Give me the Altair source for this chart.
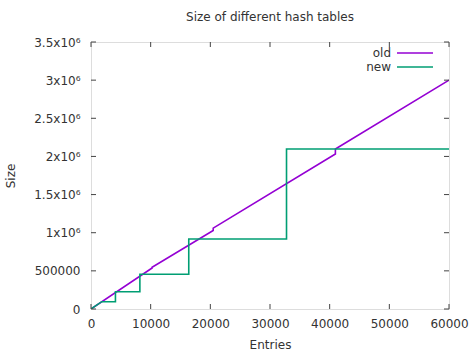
import json
import altair as alt
import pandas as pd

# ---- data ----
old_entries = [0, 10240, 10240, 20480, 20480, 40960, 40960, 60000]
old_size = [0, 537000, 548000, 1030000, 1060000, 2032000, 2097000, 3000000]

new_entries = [0, 1800, 4096, 4096, 8192, 8192, 16384, 16384, 32768, 32768, 60000]
new_size = [0, 96000, 96000, 227000, 227000, 455000, 455000, 918000, 918000, 2097000, 2097000]

series_names = ["old", "new"]
series_colors = ["#9400D3", "#009E73"]

x_ticks = [0, 10000, 20000, 30000, 40000, 50000, 60000]
y_ticks = [0, 500000, 1000000, 1500000, 2000000, 2500000, 3000000, 3500000]
y_tick_labels = ["0", "500000", "1x10⁶", "1.5x10⁶", "2x10⁶", "2.5x10⁶", "3x10⁶", "3.5x10⁶"]

FONT = "DejaVu Sans"
TXT = "#333333"
W, H = 358, 267
TL = 5

rows = []
for i, (e, s) in enumerate(zip(old_entries, old_size)):
    rows.append({"entries": e, "size": s, "series": "old", "i": i})
for i, (e, s) in enumerate(zip(new_entries, new_size)):
    rows.append({"entries": e, "size": s, "series": "new", "i": i})
df = pd.DataFrame(rows)

xscale = alt.Scale(domain=[0, 60000], nice=False, zero=False)
yscale = alt.Scale(domain=[0, 3500000], nice=False, zero=False)

label_expr = f"{json.dumps(y_tick_labels)}[indexof({json.dumps(y_ticks)}, datum.value)]"

x_axis = alt.Axis(values=x_ticks, format="d", title="Entries", tickSize=0,
                  domain=False, grid=False, labelPadding=9, titlePadding=10,
                  labelOverlap=False, labelFlush=False,
                  labelFont=FONT, labelFontSize=12, labelColor=TXT,
                  titleFont=FONT, titleFontSize=12, titleColor=TXT,
                  titleFontWeight="normal")
y_axis = alt.Axis(values=y_ticks, labelExpr=label_expr, title="Size", tickSize=0,
                  domain=False, grid=False, labelPadding=11, titlePadding=16,
                  labelOverlap=False, labelFlush=False,
                  labelFont=FONT, labelFontSize=12, labelColor=TXT,
                  titleFont=FONT, titleFontSize=12, titleColor=TXT,
                  titleFontWeight="normal")

lines = alt.Chart(df).mark_line(strokeWidth=1.6, clip=True).encode(
    x=alt.X("entries:Q", scale=xscale, axis=x_axis),
    y=alt.Y("size:Q", scale=yscale, axis=y_axis),
    color=alt.Color("series:N", scale=alt.Scale(domain=series_names, range=series_colors),
                    legend=alt.Legend(title=None, orient="none", legendX=318, legendY=5,
                                      padding=0,
                                      symbolType="M-6,0H6", symbolSize=36,
                                      symbolStrokeWidth=1.6, labelAlign="right",
                                      labelOffset={"expr": "-30"}, labelFont=FONT,
                                      labelFontSize=12, labelColor=TXT, rowPadding=2)),
    order="i:Q",
)

xt = pd.DataFrame({"v": x_ticks})
yt = pd.DataFrame({"v": y_ticks})
tick_color = "#444444"

bottom_ticks = alt.Chart(xt).mark_rule(color=tick_color, strokeWidth=1).encode(
    x=alt.X("v:Q", scale=xscale, axis=x_axis), y=alt.value(H), y2=alt.value(H - TL))
top_ticks = alt.Chart(xt).mark_rule(color=tick_color, strokeWidth=1).encode(
    x=alt.X("v:Q", scale=xscale, axis=x_axis), y=alt.value(0), y2=alt.value(TL))
left_ticks = alt.Chart(yt).mark_rule(color=tick_color, strokeWidth=1).encode(
    y=alt.Y("v:Q", scale=yscale, axis=y_axis), x=alt.value(0), x2=alt.value(TL))
right_ticks = alt.Chart(yt).mark_rule(color=tick_color, strokeWidth=1).encode(
    y=alt.Y("v:Q", scale=yscale, axis=y_axis), x=alt.value(W), x2=alt.value(W - TL))

chart = alt.layer(lines, bottom_ticks, top_ticks, left_ticks, right_ticks).properties(
    width=W, height=H,
    autosize=alt.AutoSizeParams(type="none"),
    padding={"left": 91, "top": 42, "right": 25, "bottom": 46},
    title=alt.TitleParams("Size of different hash tables", font=FONT, fontSize=12,
                          fontWeight="normal", color=TXT, anchor="middle", offset=12),
).configure_view(stroke="#444444", strokeWidth=1).configure(background="white")

chart.save("out.html", embed_options={"renderer": "svg", "actions": False})
